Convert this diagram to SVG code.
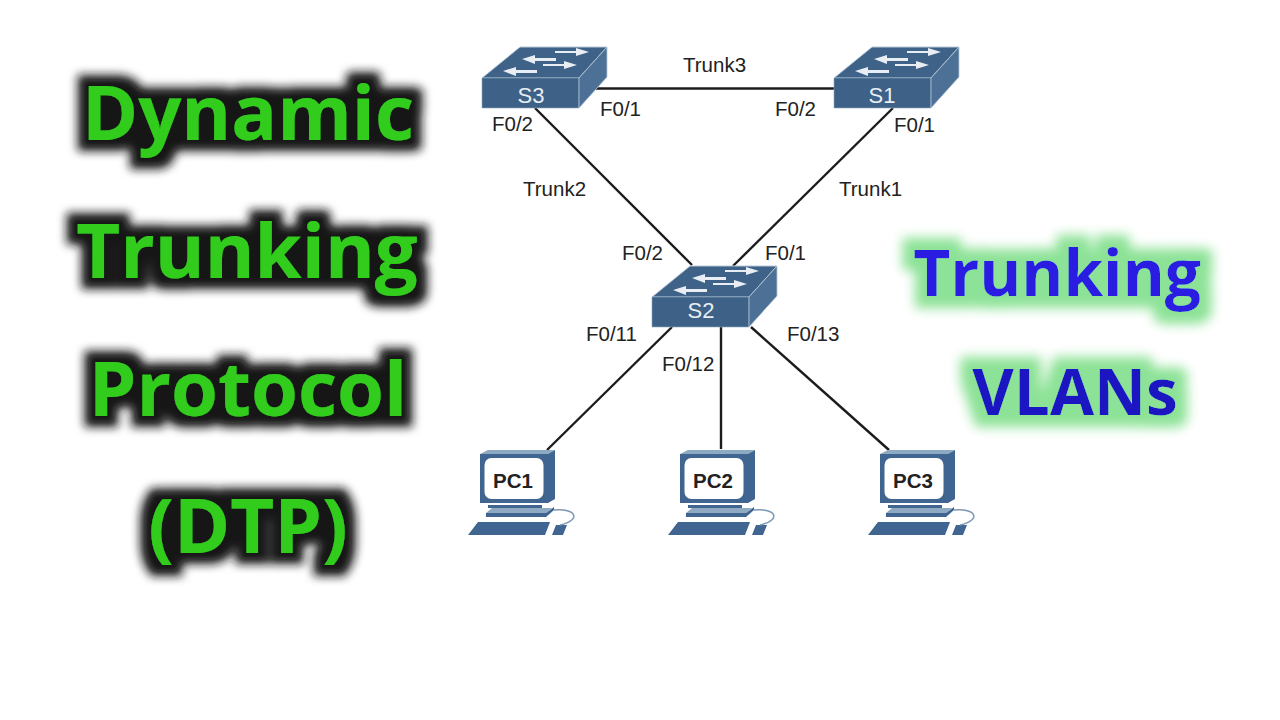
<svg xmlns="http://www.w3.org/2000/svg" xmlns:xlink="http://www.w3.org/1999/xlink" width="1280" height="720" viewBox="0 0 1280 720">
<style>
.title{font-family:"Open Sans","Liberation Sans",sans-serif;font-weight:700;text-anchor:middle}
.g{font-size:76px;fill:#33cc1f;filter:url(#darkGlow)}
.b{font-size:64px;filter:url(#greenGlow)}
.lbl{font-family:"Liberation Sans",Arial,sans-serif;font-size:20.500px;fill:#222}
.nm{font-family:"Liberation Sans",Arial,sans-serif;text-anchor:middle}
.sw{font-size:22px;fill:#e8eef3}
.pcn{font-size:20.500px;font-weight:700;fill:#222}
.link{stroke:#1c1c1c;stroke-width:2.400;fill:none}
.top{fill:#3f6288;stroke:#b8c8d6;stroke-width:1}
.front{fill:#3d6187;stroke:#8fa8bf;stroke-width:.6}
.side{fill:#4c7096;stroke:#b8c8d6;stroke-width:.8}
.arr{fill:#e8eef3}
.pc{fill:#3f6590}
.pcl{fill:#8ea9c2}
</style>
<defs>
<filter id="darkGlow" x="-15%" y="-40%" width="130%" height="180%">
<feMorphology in="SourceAlpha" operator="dilate" radius="11" result="d"/>
<feGaussianBlur in="d" stdDeviation="5" result="bl"/>
<feFlood flood-color="#141414"/>
<feComposite in2="bl" operator="in" result="glow"/>
<feMerge><feMergeNode in="glow"/><feMergeNode in="SourceGraphic"/></feMerge>
</filter>
<filter id="greenGlow" x="-15%" y="-40%" width="130%" height="180%">
<feMorphology in="SourceAlpha" operator="dilate" radius="12" result="d"/>
<feGaussianBlur in="d" stdDeviation="6" result="bl"/>
<feFlood flood-color="#8ce296"/>
<feComposite in2="bl" operator="in" result="glow"/>
<feMerge><feMergeNode in="glow"/><feMergeNode in="SourceGraphic"/></feMerge>
</filter>
<g id="switch">
<path class="top" d="M38 0H125L97 31H0Z"/>
<path class="front" d="M0 31H97V61H0Z"/>
<path class="side" d="M97 31 125 0V30L97 61Z"/>
<path class="arr" d="M73 4H94V1L107 5 94 9V6H73Z"/>
<path class="arr" d="M40 12 53 8V11H74V14H53V17Z"/>
<path class="arr" d="M61 17H82V14L95 18 82 22V19H61Z"/>
<path class="arr" d="M21 24 34 20V23H55V26H34V29Z"/>
</g>
<g id="computer">
<path class="pcl" d="M0 4 8 0H75L68 4Z"/>
<path class="pc" d="M0 4H68V53H0Z"/>
<path class="pc" d="M68 4 75 0V49L68 53Z"/>
<rect x="4.500" y="8" width="59" height="41" rx="7" fill="#fff"/>
<path class="pc" d="M8 58H62V55H8Z"/>
<path class="pcl" d="M6 63 12 58H72L66 63Z"/>
<path class="pc" d="M6 63H66L74 57V60L66 67H6Z"/>
<path class="pc" d="M-12 85-2 72H70L65 85Z"/>
<path class="pc" d="M72 85 76 75H87L83 85Z"/>
<path d="M74 60C96 58 102 70 80 75" fill="none" stroke="#7d98b3" stroke-width="1.500"/>
</g>
</defs>
<rect width="1280" height="720" fill="#fff"/>
<g id="connectors">
<line class="link" x1="580" y1="88.500" x2="834" y2="88.500"/>
<line class="link" x1="535" y1="108" x2="692" y2="265"/>
<line class="link" x1="893" y1="108" x2="733" y2="266"/>
<line class="link" x1="672" y1="327" x2="547" y2="450"/>
<line class="link" x1="721" y1="327" x2="721" y2="449"/>
<line class="link" x1="751" y1="327" x2="889" y2="450"/>
</g>
<g id="node-s3"><use href="#switch" x="482" y="47"/><text class="nm sw" x="531" y="103">S3</text></g>
<g id="node-s1"><use href="#switch" x="834" y="47"/><text class="nm sw" x="882" y="103">S1</text></g>
<g id="node-s2"><use href="#switch" x="652" y="266"/><text class="nm sw" x="701" y="318">S2</text></g>
<g id="node-pc1"><use href="#computer" x="480" y="450"/><text class="nm pcn" x="513" y="488">PC1</text></g>
<g id="node-pc2"><use href="#computer" x="680" y="450"/><text class="nm pcn" x="713" y="488">PC2</text></g>
<g id="node-pc3"><use href="#computer" x="880" y="450"/><text class="nm pcn" x="913" y="488">PC3</text></g>
<g id="labels">
<text class="lbl" x="683" y="72">Trunk3</text>
<text class="lbl" x="600" y="116">F0/1</text>
<text class="lbl" x="775" y="116">F0/2</text>
<text class="lbl" x="492" y="131">F0/2</text>
<text class="lbl" x="894" y="132">F0/1</text>
<text class="lbl" x="523" y="196">Trunk2</text>
<text class="lbl" x="839" y="196">Trunk1</text>
<text class="lbl" x="622" y="260">F0/2</text>
<text class="lbl" x="765" y="260">F0/1</text>
<text class="lbl" x="586" y="341">F0/11</text>
<text class="lbl" x="662" y="371">F0/12</text>
<text class="lbl" x="787" y="341">F0/13</text>
</g>
<g id="titles">
<text class="title g" x="248" y="140">Dynamic</text>
<text class="title g" x="247" y="278">Trunking</text>
<text class="title g" x="248" y="416">Protocol</text>
<text class="title g" x="248" y="553">(DTP)</text>
<text class="title b" x="1057" y="296" fill="#2a1ee0">Trunking</text>
<text class="title b" x="1075" y="415" fill="#1f18c2">VLANs</text>
</g>
</svg>
